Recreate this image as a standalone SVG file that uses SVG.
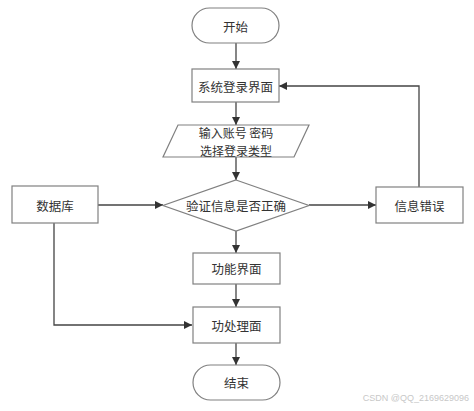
<svg xmlns="http://www.w3.org/2000/svg" width="474" height="411" viewBox="0 0 474 411">
<defs>
<style>
.n{fill:#fff;stroke:#808080;stroke-width:1.2}
.t{font-family:"Noto Sans CJK SC","Noto Sans",sans-serif;font-size:12.5px;fill:#333;text-anchor:middle;dominant-baseline:central}
.s{font-size:12px}
.c{fill:none;stroke:#444;stroke-width:1.3}
</style>
<marker id="ah" viewBox="0 0 10 10" refX="10" refY="5" markerWidth="8" markerHeight="8" markerUnits="userSpaceOnUse" orient="auto">
<path d="M0,0 L10,5 L0,10 z" fill="#333"/>
</marker>
</defs>
<rect width="474" height="411" fill="#fff"/>
<g id="connectors">
<path class="c" d="M236,43 V69" marker-end="url(#ah)"/>
<path class="c" d="M236,102 V125" marker-end="url(#ah)"/>
<path class="c" d="M236,157 V180" marker-end="url(#ah)"/>
<path class="c" d="M236,231 V253" marker-end="url(#ah)"/>
<path class="c" d="M236,284 V307" marker-end="url(#ah)"/>
<path class="c" d="M236,343 V365" marker-end="url(#ah)"/>
<path class="c" d="M98,205 H163" marker-end="url(#ah)"/>
<path class="c" d="M54,223 V325 H192" marker-end="url(#ah)"/>
<path class="c" d="M309,205 H376" marker-end="url(#ah)"/>
<path class="c" d="M419,187 V86 H279" marker-end="url(#ah)"/>
</g>
<g id="start">
<rect class="n" x="192" y="8" width="87" height="35" rx="17.5"/>
<text class="t" x="235.5" y="26">开始</text>
</g>
<g id="login">
<rect class="n" x="192" y="69" width="87" height="33"/>
<text class="t" x="235.5" y="86">系统登录界面</text>
</g>
<g id="input">
<polygon class="n" points="178,125 309,125 294,157 163,157"/>
<text class="t s" x="236" y="132">输入账号 密码</text>
<text class="t s" x="236" y="150">选择登录类型</text>
</g>
<g id="verify">
<polygon class="n" points="236,180 309,205.5 236,231 163,205.5"/>
<text class="t" x="236" y="205.5">验证信息是否正确</text>
</g>
<g id="database">
<rect class="n" x="12" y="186" width="86" height="37"/>
<text class="t" x="55" y="205">数据库</text>
</g>
<g id="error">
<rect class="n" x="376" y="187" width="87" height="36"/>
<text class="t" x="419.5" y="205">信息错误</text>
</g>
<g id="function">
<rect class="n" x="193" y="253" width="87" height="31"/>
<text class="t" x="236.5" y="268.5">功能界面</text>
</g>
<g id="process">
<rect class="n" x="193" y="307" width="87" height="36"/>
<text class="t" x="236.5" y="325">功处理面</text>
</g>
<g id="end">
<rect class="n" x="193" y="365" width="87" height="35" rx="17.5"/>
<text class="t" x="236.5" y="382.5">结束</text>
</g>
<text x="469" y="401" font-family="'Liberation Sans',sans-serif" font-size="9" fill="#c8c8c8" text-anchor="end">CSDN @QQ_2169629096</text>
</svg>
